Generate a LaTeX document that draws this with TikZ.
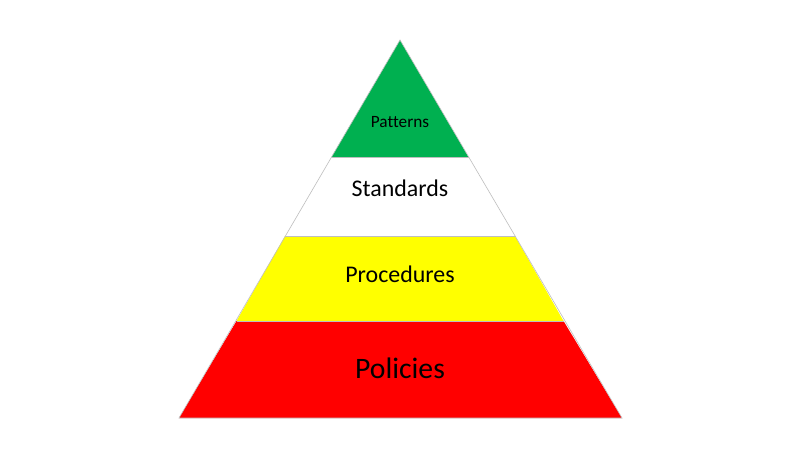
\documentclass[tikz,border=0pt]{standalone}
\usepackage{fontspec}
\setmainfont[Ligatures=CommonOff]{Carlito}
\definecolor{pgreen}{RGB}{0,176,80}
\definecolor{pyellow}{RGB}{255,255,0}
\definecolor{pred}{RGB}{255,0,0}
\definecolor{edge}{RGB}{190,190,190}
\begin{document}
\begin{tikzpicture}[x=1bp,y=-1bp,
  layer/.style={draw=edge,line width=0.6bp},
  lbl/.style={anchor=base,inner sep=0pt,text=black}]
\useasboundingbox[fill=white] (0,0) rectangle (800,452);
\coordinate (apex) at (400,40);
\coordinate (g1) at (331.5,157); \coordinate (g2) at (468.5,157);
\coordinate (w1) at (285,236); \coordinate (w2) at (515,236);
\coordinate (y1) at (236.5,321); \coordinate (y2) at (563.5,321);
\coordinate (r1) at (179,418); \coordinate (r2) at (622,418);
\fill[pred] (y1) -- (y2) -- (r2) -- (r1) -- cycle;
\fill[pyellow] (w1) -- (w2) -- (y2) -- (y1) -- cycle;
\fill[white] (g1) -- (g2) -- (w2) -- (w1) -- cycle;
\fill[pgreen] (apex) -- (g2) -- (g1) -- cycle;
\draw[layer] (apex) -- (r2) -- (r1) -- cycle;
\draw[layer] (g1) -- (g2);
\draw[layer] (w1) -- (w2);
\draw[layer] (y1) -- (y2);
\node[lbl,font=\fontsize{17.3}{17}\selectfont] (pat) at (400,127.5) {Patterns};
\node[lbl,font=\fontsize{24}{24}\selectfont] (std) at (400,197) {Standards};
\node[lbl,font=\fontsize{24}{24}\selectfont] (pro) at (400,282.5) {Procedures};
\node[lbl,font=\fontsize{29.8}{30}\selectfont] (pol) at (400,378.5) {Policies};
\end{tikzpicture}
\end{document}
